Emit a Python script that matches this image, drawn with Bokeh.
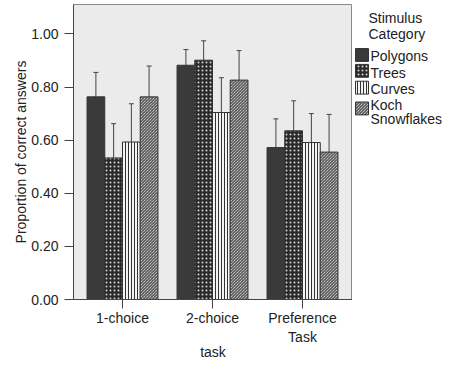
from bokeh.plotting import figure
from bokeh.models import (Range1d, FixedTicker, NumeralTickFormatter, Whisker,
                          ColumnDataSource, TeeHead)
from bokeh.layouts import row
from bokeh.embed import file_html
from bokeh.resources import INLINE
from bokeh.core.properties import value

# ---------------- data ----------------
tasks = ["1-choice", "2-choice", "Preference\nTask"]
categories = ["Polygons", "Trees", "Curves", "Koch Snowflakes"]
means = {
    "Polygons":        [0.763, 0.882, 0.572],
    "Trees":           [0.533, 0.901, 0.635],
    "Curves":          [0.593, 0.704, 0.591],
    "Koch Snowflakes": [0.763, 0.826, 0.555],
}
upper = {
    "Polygons":        [0.855, 0.941, 0.680],
    "Trees":           [0.662, 0.974, 0.748],
    "Curves":          [0.737, 0.835, 0.700],
    "Koch Snowflakes": [0.879, 0.937, 0.697],
}
lower = {
    "Polygons":        [0.671, 0.825, 0.466],
    "Trees":           [0.404, 0.828, 0.522],
    "Curves":          [0.449, 0.575, 0.481],
    "Koch Snowflakes": [0.645, 0.714, 0.412],
}
y_ticks = [0.0, 0.2, 0.4, 0.6, 0.8, 1.0]

FONT = "Liberation Sans"
H = 362
TOP = 4
BOTTOM = 60
FRAME_BOTTOM = H - BOTTOM

def style_for(cat):
    base = dict(line_color="#333333", line_width=1)
    if cat == "Polygons":
        base.update(fill_color="#3a3a3a")
    elif cat == "Trees":
        base.update(fill_color="#2a2a2a", hatch_pattern=".", hatch_color="#d4d4d4",
                    hatch_scale=4)
    elif cat == "Curves":
        base.update(fill_color="#f4f4f4", hatch_pattern="|", hatch_color="#333333",
                    hatch_scale=3, hatch_weight=1)
    else:
        base.update(fill_color="#f4f4f4", hatch_pattern="\\", hatch_color="#333333",
                    hatch_scale=3, hatch_weight=1)
    return base

# ---------------- main chart ----------------
p = figure(width=352, height=H, output_backend="svg", toolbar_location=None,
           x_range=Range1d(-0.0444, 3.0556), y_range=Range1d(0, 1.1107),
           min_border_left=73, min_border_right=0, min_border_top=TOP,
           min_border_bottom=BOTTOM)
p.background_fill_color = "#ebebeb"
p.border_fill_color = "white"
p.outline_line_color = "#8a8a8a"
p.outline_line_width = 1
p.xgrid.visible = False
p.ygrid.visible = False

centers = [0.5, 1.5, 2.5]
w = 0.197
offsets = [-1.5 * w, -0.5 * w, 0.5 * w, 1.5 * w]

for cat, off in zip(categories, offsets):
    xs = [c + off for c in centers]
    src = ColumnDataSource(dict(x=xs, top=means[cat], up=upper[cat], lo=lower[cat]))
    p.vbar(x="x", top="top", width=w, bottom=0, source=src, **style_for(cat))
    p.add_layout(Whisker(base="x", upper="up", lower="lo", source=src,
                         line_color="#444444", line_width=1,
                         upper_head=TeeHead(size=5, line_color="#444444", line_width=1),
                         lower_head=TeeHead(size=5, line_color="#444444", line_width=1)))

p.yaxis.ticker = FixedTicker(ticks=y_ticks)
p.yaxis.formatter = NumeralTickFormatter(format="0.00")
p.xaxis.ticker = FixedTicker(ticks=centers)
p.xaxis.major_label_overrides = {c: t for c, t in zip(centers, tasks)}
for ax in (p.xaxis, p.yaxis):
    ax.minor_tick_line_color = None
    ax.major_tick_in = 0
    ax.major_tick_out = 9
    ax.axis_line_color = "#444444"
    ax.major_tick_line_color = "#444444"
    ax.major_label_text_font = FONT
    ax.major_label_text_font_size = "14px"
    ax.major_label_text_color = "#222222"
    ax.axis_label_text_font = FONT
    ax.axis_label_text_font_size = "14px"
    ax.axis_label_text_font_style = "normal"
    ax.axis_label_text_color = "#222222"
p.yaxis.major_label_standoff = 6
p.yaxis.axis_label = "Proportion of correct answers"
p.yaxis.axis_label_standoff = -1
p.xaxis.major_label_standoff = 1
p.xaxis.axis_label = "task"
p.xaxis.axis_label_standoff = -4

# ---------------- legend panel ----------------
LW = 106
lg = figure(width=LW, height=H, output_backend="svg", toolbar_location=None,
            x_range=Range1d(0, LW), y_range=Range1d(FRAME_BOTTOM, TOP),
            min_border_left=0, min_border_right=0, min_border_top=TOP,
            min_border_bottom=BOTTOM)
lg.axis.visible = False
lg.grid.visible = False
lg.outline_line_color = None
lg.background_fill_color = "white"
lg.border_fill_color = "white"

lg.text(x=[16, 16], y=[18, 34], text=["Stimulus", "Category"],
        text_font=value(FONT), text_font_size="14px", text_color="#222222",
        text_baseline="middle", text_align="left")

box_y = [55, 71, 88, 109]
label_y = [[56], [73], [89], [106, 120]]
for cat, by, ly in zip(categories, box_y, label_y):
    lg.rect(x=[9.5], y=[by], width=13, height=13, **style_for(cat))
    parts = cat.split(" ")
    lg.text(x=[18] * len(parts), y=ly, text=parts,
            text_font=value(FONT), text_font_size="14px", text_color="#222222",
            text_baseline="middle", text_align="left")

layout = row(p, lg, spacing=0)
open("out.html", "w").write(file_html(layout, INLINE))
